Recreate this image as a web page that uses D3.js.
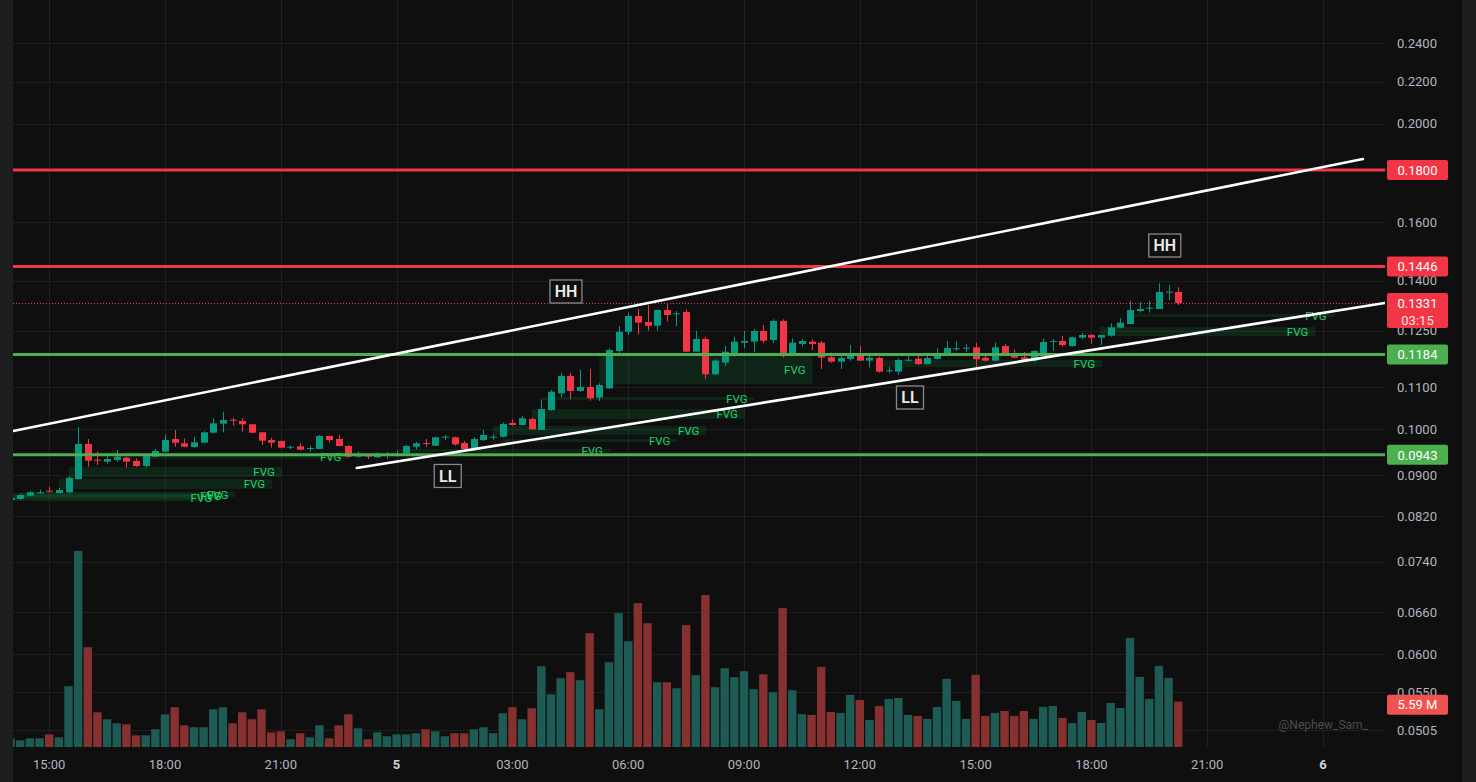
<!DOCTYPE html>
<html><head><meta charset="utf-8">
<script src="https://cdn.jsdelivr.net/npm/d3@7"></script>
<style>html,body{margin:0;padding:0;background:#0f0f0f;overflow:hidden}</style>
</head><body><svg id="c" width="1476" height="782"></svg>
<script>
// ---------------- DATA ----------------
const startTime = "2025-03-04T14:00:00Z";   // first 15-minute candle
const barMinutes = 15;
const opens  = [0.0851,0.08531,0.08595,0.08642,0.08693,0.08648,0.08662,0.08927,0.09665,0.09327,0.09285,0.09321,0.09369,0.09300,0.09194,0.09391,0.09499,0.09775,0.09680,0.09599,0.09694,0.09916,0.10121,0.10213,0.10183,0.10107,0.09925,0.09753,0.09731,0.09592,0.09614,0.09564,0.09557,0.09842,0.09775,0.09621,0.09391,0.09412,0.09377,0.09420,0.09427,0.09463,0.09607,0.09687,0.09628,0.09805,0.09813,0.09687,0.09557,0.09753,0.09805,0.09827,0.10137,0.10091,0.10229,0.09977,0.10441,0.10843,0.11279,0.10901,0.11000,0.10738,0.10966,0.11937,0.12469,0.12924,0.12749,0.12642,0.13101,0.12973,0.13042,0.11918,0.12267,0.11322,0.11625,0.11874,0.12164,0.12192,0.12491,0.12239,0.12778,0.11874,0.12128,0.12192,0.12164,0.11768,0.11651,0.11722,0.11820,0.11677,0.11749,0.11399,0.11389,0.11677,0.11731,0.11589,0.11722,0.11856,0.11982,0.11999,0.12036,0.11757,0.11677,0.12073,0.11874,0.11768,0.11677,0.11874,0.12183,0.12211,0.12073,0.12304,0.12378,0.12304,0.12359,0.12585,0.12691,0.13071,0.13141,0.13131,0.13625,0.13647];
const highs  = [0.0857,0.08628,0.08687,0.08713,0.08772,0.08752,0.08982,0.10046,0.09775,0.09499,0.09412,0.09535,0.09391,0.09356,0.09427,0.09557,0.09880,0.09977,0.09791,0.09827,0.09955,0.10246,0.10401,0.10260,0.10246,0.10114,0.09932,0.09805,0.09738,0.09628,0.09680,0.09628,0.09865,0.09850,0.09865,0.09643,0.09499,0.09427,0.09485,0.09492,0.09514,0.09643,0.09709,0.09775,0.09827,0.09865,0.09827,0.09731,0.09813,0.09977,0.09887,0.10145,0.10222,0.10299,0.10260,0.10697,0.10926,0.11362,0.11362,0.11433,0.11459,0.11092,0.12008,0.12633,0.13022,0.13131,0.13250,0.13121,0.13291,0.13071,0.13121,0.12491,0.12331,0.11714,0.12073,0.12331,0.12491,0.12548,0.12662,0.12827,0.12827,0.12286,0.12276,0.12258,0.12211,0.11892,0.11829,0.12100,0.12073,0.11829,0.11785,0.11521,0.11740,0.11829,0.11856,0.11829,0.12008,0.12211,0.12202,0.12128,0.12164,0.11847,0.12164,0.12128,0.11982,0.11910,0.11964,0.12267,0.12267,0.12350,0.12331,0.12441,0.12406,0.12378,0.12711,0.12857,0.13372,0.13331,0.13372,0.13919,0.13866,0.13795];
const lows   = [0.0849,0.08512,0.08583,0.08634,0.08662,0.08642,0.08648,0.08917,0.09180,0.09215,0.09242,0.09285,0.09159,0.09173,0.09159,0.09384,0.09492,0.09607,0.09600,0.09585,0.09687,0.09903,0.09925,0.10076,0.09939,0.09903,0.09643,0.09585,0.09571,0.09557,0.09528,0.09499,0.09550,0.09694,0.09614,0.09369,0.09369,0.09342,0.09369,0.09342,0.09391,0.09449,0.09550,0.09607,0.09621,0.09753,0.09628,0.09535,0.09514,0.09731,0.09753,0.09805,0.10076,0.10083,0.09985,0.09977,0.10425,0.10746,0.10697,0.10884,0.10664,0.10654,0.10958,0.11829,0.12378,0.12397,0.12499,0.12499,0.12769,0.12633,0.11910,0.11910,0.11193,0.11304,0.11537,0.11785,0.12010,0.11902,0.12150,0.12150,0.11758,0.11856,0.12055,0.11964,0.11459,0.11625,0.11459,0.11677,0.11670,0.11502,0.11362,0.11355,0.11304,0.11660,0.11563,0.11581,0.11714,0.11838,0.11937,0.11918,0.11494,0.11651,0.11651,0.11829,0.11750,0.11660,0.11642,0.11874,0.11937,0.12055,0.12055,0.12267,0.12128,0.12100,0.12331,0.12585,0.12691,0.13022,0.13022,0.13131,0.13402,0.13250];
const closes = [0.0855,0.08609,0.08662,0.08662,0.08681,0.08707,0.08954,0.09665,0.09306,0.09315,0.09342,0.09391,0.09285,0.09194,0.09412,0.09514,0.09753,0.09694,0.09607,0.09703,0.09925,0.10130,0.10206,0.10199,0.10107,0.09916,0.09738,0.09694,0.09585,0.09607,0.09542,0.09578,0.09842,0.09753,0.09621,0.09391,0.09412,0.09391,0.09427,0.09441,0.09449,0.09621,0.09680,0.09665,0.09813,0.09827,0.09658,0.09557,0.09775,0.09865,0.09827,0.10114,0.10091,0.10246,0.09993,0.10464,0.10884,0.11279,0.10901,0.11000,0.10724,0.11050,0.11964,0.12469,0.12924,0.12729,0.12642,0.13101,0.12953,0.13002,0.11918,0.12267,0.11322,0.11677,0.11918,0.12192,0.12211,0.12491,0.12219,0.12778,0.11874,0.12164,0.12211,0.12128,0.11757,0.11651,0.11749,0.11874,0.11677,0.11757,0.11389,0.11425,0.11695,0.11703,0.11589,0.11749,0.11874,0.12018,0.12010,0.12027,0.11714,0.11677,0.12036,0.11874,0.11757,0.11677,0.11937,0.12183,0.12211,0.12100,0.12313,0.12378,0.12304,0.12378,0.12596,0.12729,0.13101,0.13131,0.13171,0.13647,0.13657,0.13310];
const volumesM = [1.07,0.82,1.07,1.07,1.56,1.19,7.49,24.15,12.30,4.28,3.42,2.92,2.80,1.44,1.44,2.18,4.03,4.90,2.68,2.43,2.43,4.65,4.90,2.92,4.28,3.42,4.65,1.81,1.93,0.95,1.69,1.19,2.68,1.07,2.68,4.03,2.30,0.95,1.81,1.32,1.56,1.56,1.69,2.18,1.93,1.32,1.69,1.69,2.18,2.43,1.69,4.16,4.90,3.42,4.78,9.96,6.50,8.48,9.22,8.23,14.03,4.65,10.45,16.50,13.04,17.73,15.26,7.98,7.98,7.24,15.02,8.85,18.72,7.37,9.71,8.60,9.34,7.12,8.97,6.75,17.12,7.00,4.05,3.95,9.87,4.32,4.20,6.42,5.80,3.33,5.06,5.92,6.05,3.95,3.83,3.46,4.94,8.39,5.68,3.46,8.89,3.83,4.20,4.44,3.83,4.44,3.46,4.94,5.06,3.58,2.96,4.32,3.33,2.96,5.43,4.81,13.45,8.64,5.92,10.00,8.51,5.59];

// price axis ticks (log scale)
const priceTicks = [0.24,0.22,0.20,0.18,0.16,0.14,0.125,0.11,0.10,0.09,0.082,0.074,0.066,0.06,0.055,0.0505];

// horizontal levels
const levelPrices = [0.18, 0.1446, 0.1184, 0.0943];
const levelKinds  = ["resistance","resistance","support","support"];

// trend lines: [time, price] endpoints
const trendStarts = [["2025-03-04T14:04:00Z",0.09955],["2025-03-04T22:58:00Z",0.09153]];
const trendEnds   = [["2025-03-06T01:02:00Z",0.18456],["2025-03-06T01:36:00Z",0.13311]];

// fair value gaps: bar-index start/end, top/bottom price
const fvgStart  = [0.25,0.25,1.0,5.0,6.0,14.5,40.0,50.7,50.0,54.0,55.1,61.0,90.1,112.9,116.0];
const fvgEnd    = [21.6,22.6,23.3,27.1,28.1,35.0,62.1,69.1,72.1,76.1,77.1,83.1,113.1,135.2,137.1];
const fvgTop    = [0.08609,0.08648,0.08668,0.08927,0.09173,0.09427,0.09557,0.09775,0.10068,0.10464,0.10753,0.11802,0.11695,0.12605,0.12983];
const fvgBottom = [0.08493,0.08531,0.08570,0.08727,0.08969,0.09342,0.09492,0.09709,0.09865,0.10229,0.10680,0.11075,0.11511,0.12350,0.12895];

// swing labels
const swingTexts  = ["HH","LL","HH","LL"];
const swingIndex  = [57.55,45.3,119.6,93.2];
const swingPrices = [0.13663,0.08989,0.15166,0.10741];

const countdown = "03:15";
const watermark = "@Nephew_Sam_";

// ---------------- CHART ----------------
const W = 1476, H = 782;
const plotL = 13, plotR = 1385, plotT = 0, plotB = 747;
const svg = d3.select("#c");
const t0 = new Date(startTime);
const tAt = i => new Date(t0.getTime() + i * barMinutes * 60000);

const x = d3.scaleUtc().domain([t0, tAt(34 * 4)]).range([10.6, 1323]);
const y = d3.scaleLog().domain([0.04859, 0.26476]).range([plotB, plotT]);
const yVol = d3.scaleLinear().domain([0, d3.max(volumesM)]).range([plotB, 551]);

const UP = "#089981", DOWN = "#f23645";
const font = "Roboto, 'Liberation Sans', sans-serif";

svg.append("rect").attr("width", W).attr("height", H).attr("fill", "#0f0f0f");
svg.append("rect").attr("x", 0).attr("y", 0).attr("width", plotL).attr("height", H).attr("fill", "#1e1e1e");
svg.append("rect").attr("x", 1462).attr("y", 0).attr("width", W - 1462).attr("height", H).attr("fill", "#1e1e1e");

svg.append("defs").append("clipPath").attr("id", "plot")
  .append("rect").attr("x", plotL).attr("y", plotT).attr("width", plotR - plotL).attr("height", plotB - plotT);

const grid = svg.append("g").attr("clip-path", "url(#plot)");
// horizontal grid
grid.selectAll("line.h").data(priceTicks).join("line")
  .attr("x1", plotL).attr("x2", plotR)
  .attr("y1", d => Math.round(y(d)) + 0.5).attr("y2", d => Math.round(y(d)) + 0.5)
  .attr("stroke", "#1f1f1f").attr("stroke-width", 1);
// time ticks
const timeTicks = d3.utcHour.every(3).range(x.invert(plotL), x.invert(plotR));
grid.selectAll("line.v").data(timeTicks).join("line")
  .attr("x1", d => Math.round(x(d)) + 0.5).attr("x2", d => Math.round(x(d)) + 0.5)
  .attr("y1", plotT).attr("y2", plotB)
  .attr("stroke", "#1f1f1f").attr("stroke-width", 1);

const plot = svg.append("g").attr("clip-path", "url(#plot)");

const bars = opens.map((o, i) => ({ i, t: tAt(i), o, h: highs[i], l: lows[i], c: closes[i], v: volumesM[i], up: closes[i] >= o }));

// volume
plot.append("g").selectAll("rect").data(bars).join("rect")
  .attr("x", d => x(d.t) - 4.2).attr("width", 8.4)
  .attr("y", d => yVol(d.v)).attr("height", d => plotB - yVol(d.v))
  .attr("fill", d => d.up ? "#1e5b55" : "#86302f");

// FVG zones
const fvgs = fvgStart.map((s, k) => ({ s, e: fvgEnd[k], top: fvgTop[k], bot: fvgBottom[k] }));
plot.append("g").selectAll("rect").data(fvgs).join("rect")
  .attr("x", d => x(tAt(d.s))).attr("width", d => x(tAt(d.e)) - x(tAt(d.s)))
  .attr("y", d => y(d.top)).attr("height", d => y(d.bot) - y(d.top))
  .attr("fill", "rgb(16,120,60)").attr("fill-opacity", 0.22);

// candles
const cg = plot.append("g");
cg.selectAll("line").data(bars).join("line")
  .attr("x1", d => Math.round(x(d.t)) + 0.5).attr("x2", d => Math.round(x(d.t)) + 0.5)
  .attr("y1", d => y(d.h)).attr("y2", d => y(d.l))
  .attr("stroke", d => d.up ? UP : DOWN).attr("stroke-width", 1);
cg.selectAll("rect").data(bars).join("rect")
  .attr("x", d => Math.round(x(d.t)) + 0.5 - 3.5).attr("width", 7)
  .attr("y", d => y(Math.max(d.o, d.c)))
  .attr("height", d => Math.max(1, y(Math.min(d.o, d.c)) - y(Math.max(d.o, d.c))))
  .attr("fill", d => d.up ? UP : DOWN);

// FVG labels
plot.append("g").selectAll("text").data(fvgs).join("text")
  .attr("x", d => x(tAt(d.e)) - 7).attr("y", d => (y(d.top) + y(d.bot)) / 2)
  .attr("dy", "0.36em").attr("text-anchor", "end")
  .attr("font-family", font).attr("font-size", 11.5).attr("fill", "#22d26c")
  .text("FVG");

// levels
const levelColor = k => k === "resistance" ? "#f23645" : "#4caf50";
plot.append("g").selectAll("line").data(levelPrices).join("line")
  .attr("x1", plotL).attr("x2", plotR)
  .attr("y1", d => y(d)).attr("y2", d => y(d))
  .attr("stroke", (d, k) => levelColor(levelKinds[k])).attr("stroke-width", 3);

// current price dotted line
const last = bars[bars.length - 1];
plot.append("line").attr("x1", plotL).attr("x2", plotR)
  .attr("y1", Math.round(y(last.c)) + 0.5).attr("y2", Math.round(y(last.c)) + 0.5)
  .attr("stroke", "#f23645").attr("stroke-width", 1).attr("stroke-dasharray", "1,2");

// trend lines
plot.append("g").selectAll("line").data(trendStarts).join("line")
  .attr("x1", d => x(new Date(d[0]))).attr("y1", d => y(d[1]))
  .attr("x2", (d, k) => x(new Date(trendEnds[k][0]))).attr("y2", (d, k) => y(trendEnds[k][1]))
  .attr("stroke", "#ffffff").attr("stroke-width", 2.6).attr("stroke-linecap", "round");

// swing labels
const sg = plot.append("g").selectAll("g").data(swingTexts).join("g")
  .attr("transform", (d, k) => `translate(${x(tAt(swingIndex[k]))},${y(swingPrices[k])})`);
sg.append("rect")
  .attr("x", d => d === "HH" ? -16 : -13.5).attr("y", -11.5)
  .attr("width", d => d === "HH" ? 32 : 27).attr("height", 23)
  .attr("fill", "#0f0f0f").attr("stroke", "#8a8a8a").attr("stroke-width", 1.3);
sg.append("text").attr("text-anchor", "middle").attr("dy", "0.36em")
  .attr("font-family", font).attr("font-size", 16).attr("font-weight", 600).attr("fill", "#ececec")
  .text(d => d);

// watermark
svg.append("text").attr("x", 1368).attr("y", 729).attr("text-anchor", "end")
  .attr("font-family", font).attr("font-size", 12).attr("fill", "#4d4d4d").text(watermark);

// price axis tick labels
svg.append("g").selectAll("text").data(priceTicks).join("text")
  .attr("x", 1397).attr("y", d => y(d)).attr("dy", "0.36em")
  .attr("font-family", font).attr("font-size", 13).attr("fill", "#b2b5be")
  .text(d => d3.format(".4f")(d));

// time axis labels
svg.append("g").selectAll("text").data(timeTicks).join("text")
  .attr("x", d => x(d)).attr("y", 769).attr("text-anchor", "middle")
  .attr("font-family", font).attr("font-size", 13)
  .attr("font-weight", d => d.getUTCHours() === 0 ? 700 : 400)
  .attr("fill", d => d.getUTCHours() === 0 ? "#d1d4dc" : "#b2b5be")
  .text(d => d.getUTCHours() === 0 ? d3.utcFormat("%-d")(d) : d3.utcFormat("%H:%M")(d));

// axis price labels
const fmt = d3.format(".4f");
const tagX = 1387, tagW = 61;
function tag(cy, h, fill, lines) {
  const g = svg.append("g");
  g.append("rect").attr("x", tagX).attr("y", cy - 10).attr("width", tagW).attr("height", h).attr("rx", 2).attr("fill", fill);
  lines.forEach((s, k) => g.append("text").attr("x", tagX + tagW / 2).attr("y", cy + k * 17).attr("dy", "0.36em")
    .attr("text-anchor", "middle").attr("font-family", font).attr("font-size", 13)
    .attr("fill", k === 0 ? "#ffffff" : "#ffe3e5").text(s));
}
levelPrices.forEach((p, k) => tag(y(p), 20, levelKinds[k] === "resistance" ? "#f23645" : "#4caf50", [fmt(p)]));
tag(y(last.c), 35, "#f23645", [fmt(last.c), countdown]);
tag(yVol(last.v) + 3, 20, "#ef5350", [d3.format(".2f")(last.v) + " M"]);
</script></body></html>
